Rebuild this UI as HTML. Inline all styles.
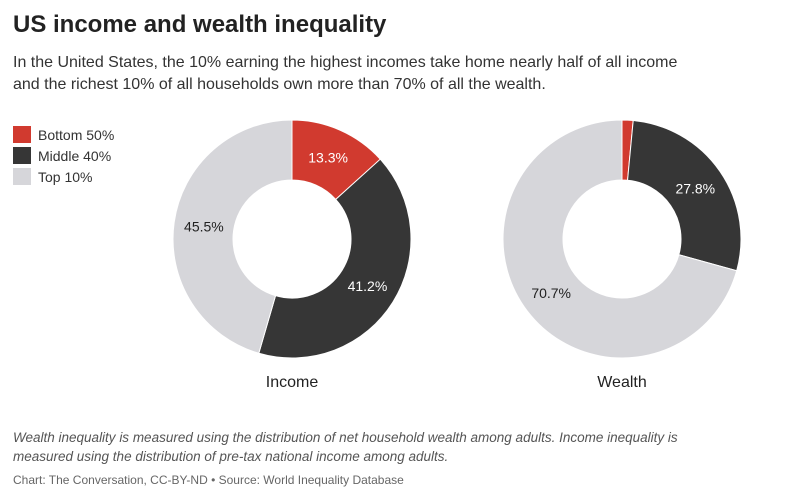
<!DOCTYPE html>
<html><head><meta charset="utf-8"><style>
body{margin:0;background:#fff;font-family:"Liberation Sans",sans-serif;}
</style></head><body>
<svg width="794" height="496" xmlns="http://www.w3.org/2000/svg" style="display:block" font-family="Liberation Sans, sans-serif">
<text x="13" y="32" font-size="24" font-weight="bold" fill="#222">US income and wealth inequality</text>
<text x="13" y="67" font-size="16" fill="#333">In the United States, the 10% earning the highest incomes take home nearly half of all income</text>
<text x="13" y="89" font-size="16" fill="#333">and the richest 10% of all households own more than 70% of all the wealth.</text>
<g font-size="14" fill="#333">
<rect x="13" y="126" width="18" height="17" fill="#d13a2f"/>
<text x="38" y="140">Bottom 50%</text>
<rect x="13" y="147" width="18" height="17" fill="#363636"/>
<text x="38" y="161">Middle 40%</text>
<rect x="13" y="168" width="18" height="17" fill="#d6d6da"/>
<text x="38" y="182">Top 10%</text>
</g>
<g id="charts"></g>
<text x="13" y="442" font-size="13.5" font-style="italic" fill="#555">Wealth inequality is measured using the distribution of net household wealth among adults. Income inequality is</text>
<text x="13" y="461" font-size="13.5" font-style="italic" fill="#555">measured using the distribution of pre-tax national income among adults.</text>
<text x="13" y="484" font-size="12" fill="#666">Chart: The Conversation, CC-BY-ND • Source: World Inequality Database</text>
</svg>
<script>
const charts = ["Income", "Wealth"];
const incomeValues = [13.3, 41.2, 45.5];
const wealthValues = [1.5, 27.8, 70.7];
const valueLabels = [["13.3%", "41.2%", "45.5%"], ["", "27.8%", "70.7%"]];
const colors = ["#d13a2f", "#363636", "#d6d6da"];
const labelColors = ["#fff", "#fff", "#222"];
const NS = "http://www.w3.org/2000/svg";
const g = document.getElementById('charts');
const centers = [292, 622], cy = 239, R = 119, r = 59;
function pt(a, rad, cx){return [cx + rad*Math.sin(a), cy - rad*Math.cos(a)];}
[incomeValues, wealthValues].forEach((vals, ci) => {
  const cx = centers[ci];
  const tot = vals.reduce((a,b)=>a+b,0);
  let acc = 0;
  vals.forEach((v, i) => {
    const a0 = acc/tot*2*Math.PI; acc += v; const a1 = acc/tot*2*Math.PI;
    const large = (a1-a0) > Math.PI ? 1 : 0;
    const p0=pt(a0,R,cx), p1=pt(a1,R,cx), q1=pt(a1,r,cx), q0=pt(a0,r,cx);
    const path = document.createElementNS(NS,'path');
    path.setAttribute('d',`M${p0[0]},${p0[1]}A${R},${R} 0 ${large} 1 ${p1[0]},${p1[1]}L${q1[0]},${q1[1]}A${r},${r} 0 ${large} 0 ${q0[0]},${q0[1]}Z`);
    path.setAttribute('fill', colors[i]);
    path.setAttribute('stroke', '#fff');
    path.setAttribute('stroke-width', '1');
    
    
    g.appendChild(path);
    if (valueLabels[ci][i]) {
      const am = (a0+a1)/2, m = pt(am, (R+r)/2, cx);
      const t = document.createElementNS(NS,'text');
      t.setAttribute('x', m[0]); t.setAttribute('y', m[1]+5);
      t.setAttribute('text-anchor','middle'); t.setAttribute('font-size','14');
      t.setAttribute('fill', labelColors[i]);
      
      
      t.textContent = valueLabels[ci][i];
      g.appendChild(t);
    }
  });
  const t = document.createElementNS(NS,'text');
  t.setAttribute('x', cx); t.setAttribute('y', 387);
  t.setAttribute('text-anchor','middle'); t.setAttribute('font-size','16'); t.setAttribute('fill','#222');
  
  
  t.textContent = charts[ci];
  g.appendChild(t);
});
</script>
</body></html>
